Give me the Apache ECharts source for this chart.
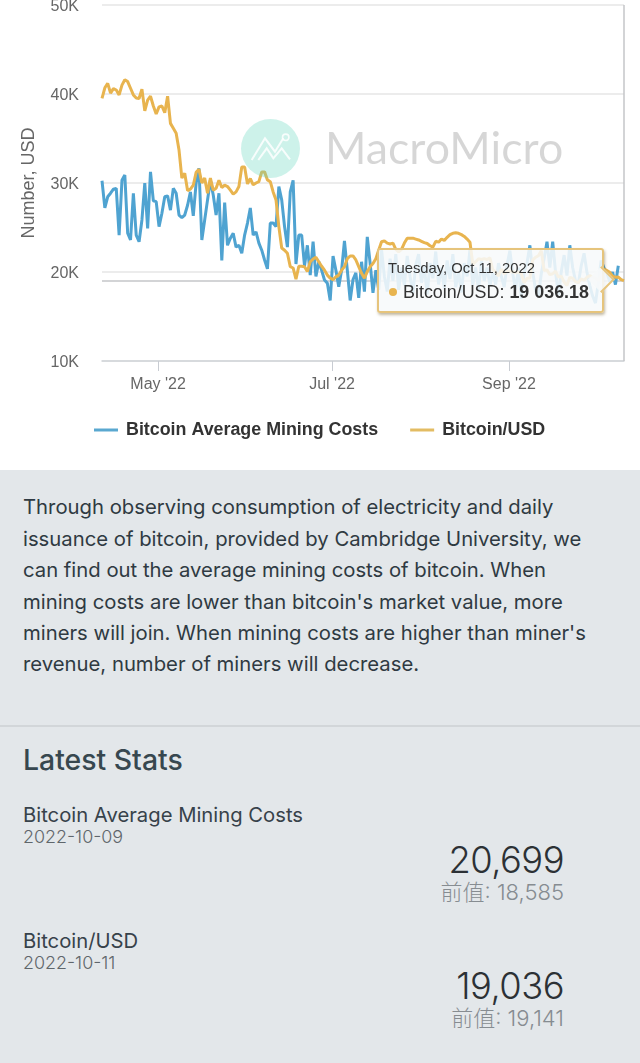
<!DOCTYPE html>
<html><head><meta charset="utf-8">
<script src="https://cdn.jsdelivr.net/npm/echarts@6/dist/echarts.min.js"></script>
<style>
html,body{margin:0;padding:0;background:#fff;width:640px;height:1063px;overflow:hidden}
#chart{position:absolute;left:0;top:0;width:640px;height:470px}
#panel{position:absolute;left:0;top:470px;width:640px;height:593px;background:#e3e7ea;font-family:Inter,"Noto Sans CJK SC",sans-serif;color:#2f3a42}
#panel div{position:absolute;white-space:nowrap;line-height:1}
.p{left:23px;font-size:20.3px;letter-spacing:0}
.rv{right:76px;font-size:36.3px;font-weight:300;color:#2c3135;letter-spacing:-.5px}
.pv{right:76px;font-size:22px;font-weight:300;color:#868c91}
.n{left:23px;font-size:20.25px;color:#37424a}
.d{left:23px;font-size:17.9px;font-weight:300;color:#5f666b}
</style></head><body>
<div id="chart"></div>
<div id="panel">
<div class="p" style="top:27px">Through observing consumption of electricity and daily</div>
<div class="p" style="top:59px">issuance of bitcoin, provided by Cambridge University, we</div>
<div class="p" style="top:90px">can find out the average mining costs of bitcoin. When</div>
<div class="p" style="top:122px">mining costs are lower than bitcoin's market value, more</div>
<div class="p" style="top:153px">miners will join. When mining costs are higher than miner's</div>
<div class="p" style="top:184px">revenue, number of miners will decrease.</div>
<div style="left:0;top:255px;width:640px;height:1.5px;background:#d2d6d9"></div>
<div style="left:23px;top:276px;font-size:28.4px;font-weight:500;color:#37474f">Latest Stats</div>
<div class="n" style="top:335px">Bitcoin Average Mining Costs</div>
<div class="d" style="top:358px">2022-10-09</div>
<div class="rv" style="top:372px">20,699</div>
<div class="pv" style="top:411px">前值: 18,585</div>
<div class="n" style="top:461px">Bitcoin/USD</div>
<div class="d" style="top:484px">2022-10-11</div>
<div class="rv" style="top:498px">19,036</div>
<div class="pv" style="top:537px">前值: 19,141</div>
</div>
<script>
const startDate = Date.UTC(2022, 3, 11);
const dayMs = 86400000;
const tickDates = ['2022-04-30T16:00:00Z', '2022-06-30T16:00:00Z', '2022-08-31T16:00:00Z'];
const tickLabels = ["May '22", "Jul '22", "Sep '22"];
const yTicks = [10000, 20000, 30000, 40000, 50000];
const seriesNames = ['Bitcoin Average Mining Costs', 'Bitcoin/USD'];
const miningCosts = [
30250,27200,28450,28850,29300,29400,24150,30300,30900,24350,
23600,28850,24150,23400,25850,30000,24900,31250,28000,27900,
25100,26600,28450,28550,26950,29400,28850,26400,26100,26400,
27500,29000,26300,30000,31650,23600,25850,28100,30300,28650,
26400,28850,21300,27800,23000,23800,24350,22800,23000,22100,
24150,25500,27200,24150,24500,23250,22450,21350,20350,25500,
25500,25100,29600,28100,25100,22800,29000,30300,20900,24150,
24150,20700,23000,19650,23400,19500,21150,20200,19100,18750,
16800,21800,20200,18350,20200,23500,20200,16800,19150,19900,
17100,21150,17800,23950,21000,17650,20200,18000,22500,19500,
17800,21500,19000,22000,18000,20500,18500,21800,19500,17600,
20800,22000,18800,20600,17500,21000,19300,22300,18600,20500,
18200,21300,19200,22000,18300,20000,17700,21000,19500,22500,
18500,20500,17900,21200,19000,20500,18500,20000,18600,21000,
19500,18300,20800,22400,19800,18000,20500,17000,20000,21000,
23000,20000,18000,17300,19800,21500,23400,20500,23400,20000,
17400,20000,21900,19600,23000,20500,19000,18750,20700,22100,
20000,18500,17300,16500,18800,21300,20450,19900,18900,20000,
18585,20699];
const bitcoinUsd = [
39500,40700,41200,40100,40600,40450,39900,41000,41600,41400,
40650,39900,39550,39500,40550,38100,39300,39750,38650,37750,
38550,38650,37900,39750,36700,36150,35600,33700,30550,31100,
29150,29300,29750,31200,31540,30000,30550,28850,30550,29200,
29400,30300,29500,29750,29600,29200,28750,29000,29600,31800,
31800,29900,30500,29800,30000,30150,31250,31250,30350,30150,
29000,28100,25100,22700,22450,22100,20600,20450,19200,20650,
20650,20600,20050,21150,21450,21650,21150,20650,20200,19650,
19300,19150,19450,19650,20200,20600,21500,21800,21800,21350,
20600,19850,19300,20050,20600,20950,21500,22450,23400,23500,
23250,23150,23250,22550,22250,22550,23250,23800,23800,23800,
23700,23600,23450,23300,23200,22950,22800,23450,23350,23700,
23550,23900,24200,24350,24400,24350,24200,24000,23700,23350,
20900,21150,21500,21400,21500,21400,21600,20250,20000,19550,
20300,19800,20050,20130,20000,19950,20000,19800,18800,19290,
19320,21360,21650,21830,22400,20170,20240,19700,19800,20110,
19420,19540,18880,18490,19400,19300,18920,18800,19220,19080,
19410,19590,19430,19310,19050,19620,20340,20160,19960,19530,
19420,19440,19141,19036.18];

const BLUE = '#4fa3d1', GOLD = '#e8b44f';
const dated = arr => arr.map((v, i) => [startDate + i * dayMs, v]);
const endIdx = bitcoinUsd.length - 1;
const endTime = startDate + endIdx * dayMs;
const endValue = bitcoinUsd[endIdx];
const axisTicks = tickDates.map(s => Date.parse(s));
const tipBody = v => '<div style="position:relative;box-sizing:border-box;width:227px;height:65px;background:rgba(247,249,250,.88);border:2px solid #e6c47c;border-radius:3px;box-shadow:1px 2px 3px rgba(120,100,50,.45);font-family:\'Liberation Sans\',sans-serif;color:#333;">'
  + '<div style="position:absolute;left:9px;top:10px;font-size:14.8px;line-height:17px;white-space:nowrap">Tuesday, Oct 11, 2022</div>'
  + '<div style="position:absolute;left:24px;top:32px;font-size:17.9px;line-height:20px;white-space:nowrap">Bitcoin/USD: <b>' + v.toFixed(2).replace(/\B(?=(\d{3})+(?!\d))/g, '\u00a0') + '</b></div>'
  + '<div style="position:absolute;left:10px;top:38px;width:8px;height:8px;border-radius:50%;background:' + GOLD + '"></div>'
  + '<div style="position:absolute;right:-9px;top:20px;width:17px;height:17px;transform:rotate(45deg);background:rgba(247,249,250,.88);border-top:2px solid #e6c47c;border-right:2px solid #e6c47c"></div>'
  + '</div>';

const chart = echarts.init(document.getElementById('chart'), null, {renderer: 'canvas'});
chart.setOption({
  animation: false,
  textStyle: {fontFamily: '"Liberation Sans", Arial, sans-serif'},
  grid: {left: 102, right: 16, top: 5, bottom: 109, containLabel: false, outerBoundsMode: 'none'},
  legend: {
    top: 421, left: 94, padding: 0, itemWidth: 24, itemHeight: 3, itemGap: 32, icon: 'rect',
    textStyle: {fontSize: 17.85, fontWeight: 'bold', color: '#333', padding: [0, 0, 0, 3]},
    data: [{name: seriesNames[0], itemStyle: {color: '#5aa8d0'}}, {name: seriesNames[1], itemStyle: {color: '#e3bc63'}}]
  },
  xAxis: {
    type: 'value', min: startDate, max: endTime, scale: true,
    splitLine: {show: false},
    axisLine: {onZero: false, lineStyle: {color: '#d0d3d8', width: 1.5}},
    axisTick: {show: true, length: 10, lineStyle: {color: '#c8ccd2', width: 1}, customValues: axisTicks},
    axisLabel: {
      color: '#666', fontSize: 16, margin: 16, customValues: axisTicks, hideOverlap: false,
      formatter: v => tickLabels[axisTicks.indexOf(+v)] || ''
    }
  },
  yAxis: {
    type: 'value', min: yTicks[0], max: yTicks[yTicks.length - 1], interval: 10000,
    name: 'Number, USD', nameLocation: 'middle', nameGap: 64, nameRotate: 90,
    nameTextStyle: {color: '#666', fontSize: 18},
    axisLine: {show: false}, axisTick: {show: false},
    splitLine: {lineStyle: {color: '#e6e6e6', width: 1.5}},
    axisLabel: {color: '#666', fontSize: 16, margin: 23, verticalAlign: 'top', lineHeight: 4, formatter: v => (v / 1000) + 'K'}
  },
  tooltip: {
    trigger: 'axis', axisPointer: {type: 'none'},
    alwaysShowContent: true, transitionDuration: 0, showDelay: 0,
    padding: 0, borderWidth: 0, backgroundColor: 'transparent',
    extraCssText: 'box-shadow:none;',
    position: () => [377, 248],
    formatter: ps => tipBody(endValue)
  },
  graphic: [
    {type: 'circle', z: 100, silent: true, shape: {cx: 270.5, cy: 148.5, r: 29.5}, style: {fill: 'rgba(100,215,190,0.32)'}},
    {type: 'polyline', z: 101, silent: true, shape: {points: [[251.7,160],[265,138.3],[275,151.7],[283.3,138.3]]}, style: {stroke: 'rgba(255,255,255,.85)', lineWidth: 2, fill: null}},
    {type: 'polyline', z: 101, silent: true, shape: {points: [[258.3,160],[266.7,148.3],[273.3,158.3],[281.7,148.3],[290,159.3]]}, style: {stroke: 'rgba(255,255,255,.85)', lineWidth: 2, fill: null}},
    {type: 'circle', z: 101, silent: true, shape: {cx: 285.7, cy: 137.3, r: 3.2}, style: {stroke: 'rgba(255,255,255,.85)', lineWidth: 1.6, fill: null}},
    {type: 'text', z: 100, silent: true, x: 325, y: 150, style: {text: 'MacroMicro', font: '400 44.7px Lato, sans-serif', fill: 'rgba(0,0,0,0.16)', verticalAlign: 'middle', align: 'left'}}
  ],
  series: [
    {name: seriesNames[0], type: 'line', data: dated(miningCosts), showSymbol: false, symbol: 'none', smooth: false, z: 2,
     lineStyle: {color: BLUE, width: 3}, itemStyle: {color: BLUE}, emphasis: {disabled: true}},
    {name: seriesNames[1], type: 'line', data: dated(bitcoinUsd), showSymbol: false, symbol: 'none', smooth: false, z: 3,
     lineStyle: {color: GOLD, width: 3}, itemStyle: {color: GOLD}, emphasis: {disabled: true},
     markLine: {silent: true, symbol: 'none', animation: false, z: 1, label: {show: false},
       lineStyle: {color: '#c4c6c8', type: 'solid', width: 1.5},
       data: [{yAxis: endValue}, {xAxis: endTime}]}}
  ]
});
chart.dispatchAction({type: 'showTip', seriesIndex: 1, dataIndex: endIdx});
</script>
</body></html>
